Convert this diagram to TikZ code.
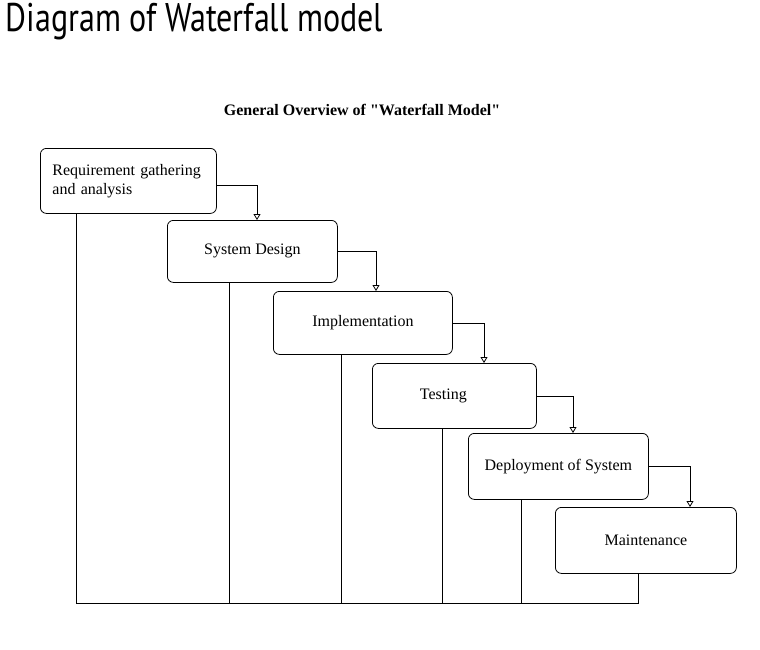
\documentclass[tikz,border=0pt]{standalone}
\usepackage{fontspec}
\setmainfont{Liberation Serif}
\newfontfamily\titlefont{PT Sans}
\usetikzlibrary{arrows.meta}
\begin{document}
\begin{tikzpicture}[x=1pt,y=-1pt,
  box/.style={draw,rounded corners=6pt,anchor=north west,inner sep=0pt,font=\fontsize{16}{19}\selectfont},
  arr/.style={-{Triangle[open,length=6pt,width=7pt]}},
  line width=0.8pt]
\useasboundingbox (0,0) rectangle (760,650);
\node[anchor=west,font=\titlefont\fontsize{40}{42}\selectfont] (t) at (2,22) {\scalebox{0.8}[1]{Diagram of Waterfall model}};
\node[font=\bfseries\fontsize{16}{18}\selectfont] (st) at (362,110) {General Overview of \textquotedbl Waterfall Model\textquotedbl};
\node[box,minimum width=176pt,minimum height=65pt,align=left,text width=152pt,inner xsep=12pt] (b1) at (40,148) {Requirement gathering\\and analysis};
\node[box,minimum width=170pt,minimum height=62pt] (b2) at (167,220) {System Design};
\node[box,minimum width=179pt,minimum height=63pt] (b3) at (273,291) {Implementation};
\node[box,minimum width=164pt,minimum height=65pt] (b4) at (372,363) {\hspace*{-22pt}Testing};
\node[box,minimum width=180pt,minimum height=66pt] (b5) at (468,433) {Deployment of System};
\node[box,minimum width=181pt,minimum height=66pt] (b6) at (555,507) {Maintenance};
\coordinate (a2) at (257,220);
\coordinate (a3) at (376,291);
\coordinate (a4) at (484,363);
\coordinate (a5) at (573,433);
\coordinate (a6) at (690,507);
\coordinate (c1) at (76,603);
\coordinate (c2) at (229,603);
\coordinate (c3) at (341,603);
\coordinate (c4) at (442,603);
\coordinate (c5) at (521,603);
\coordinate (c6) at (638,603);
\draw[arr] ([yshift=-4pt]b1.east) -| (a2);
\draw[arr] (b2.east) -| (a3);
\draw[arr] (b3.east) -| (a4);
\draw[arr] (b4.east) -| (a5);
\draw[arr] (b5.east) -| (a6);
\draw (b1.south -| c1) -- (c1) -- (c6) -- (b6.south -| c6);
\draw (b2.south -| c2) -- (c2);
\draw (b3.south -| c3) -- (c3);
\draw (b4.south -| c4) -- (c4);
\draw (b5.south -| c5) -- (c5);
\end{tikzpicture}
\end{document}
